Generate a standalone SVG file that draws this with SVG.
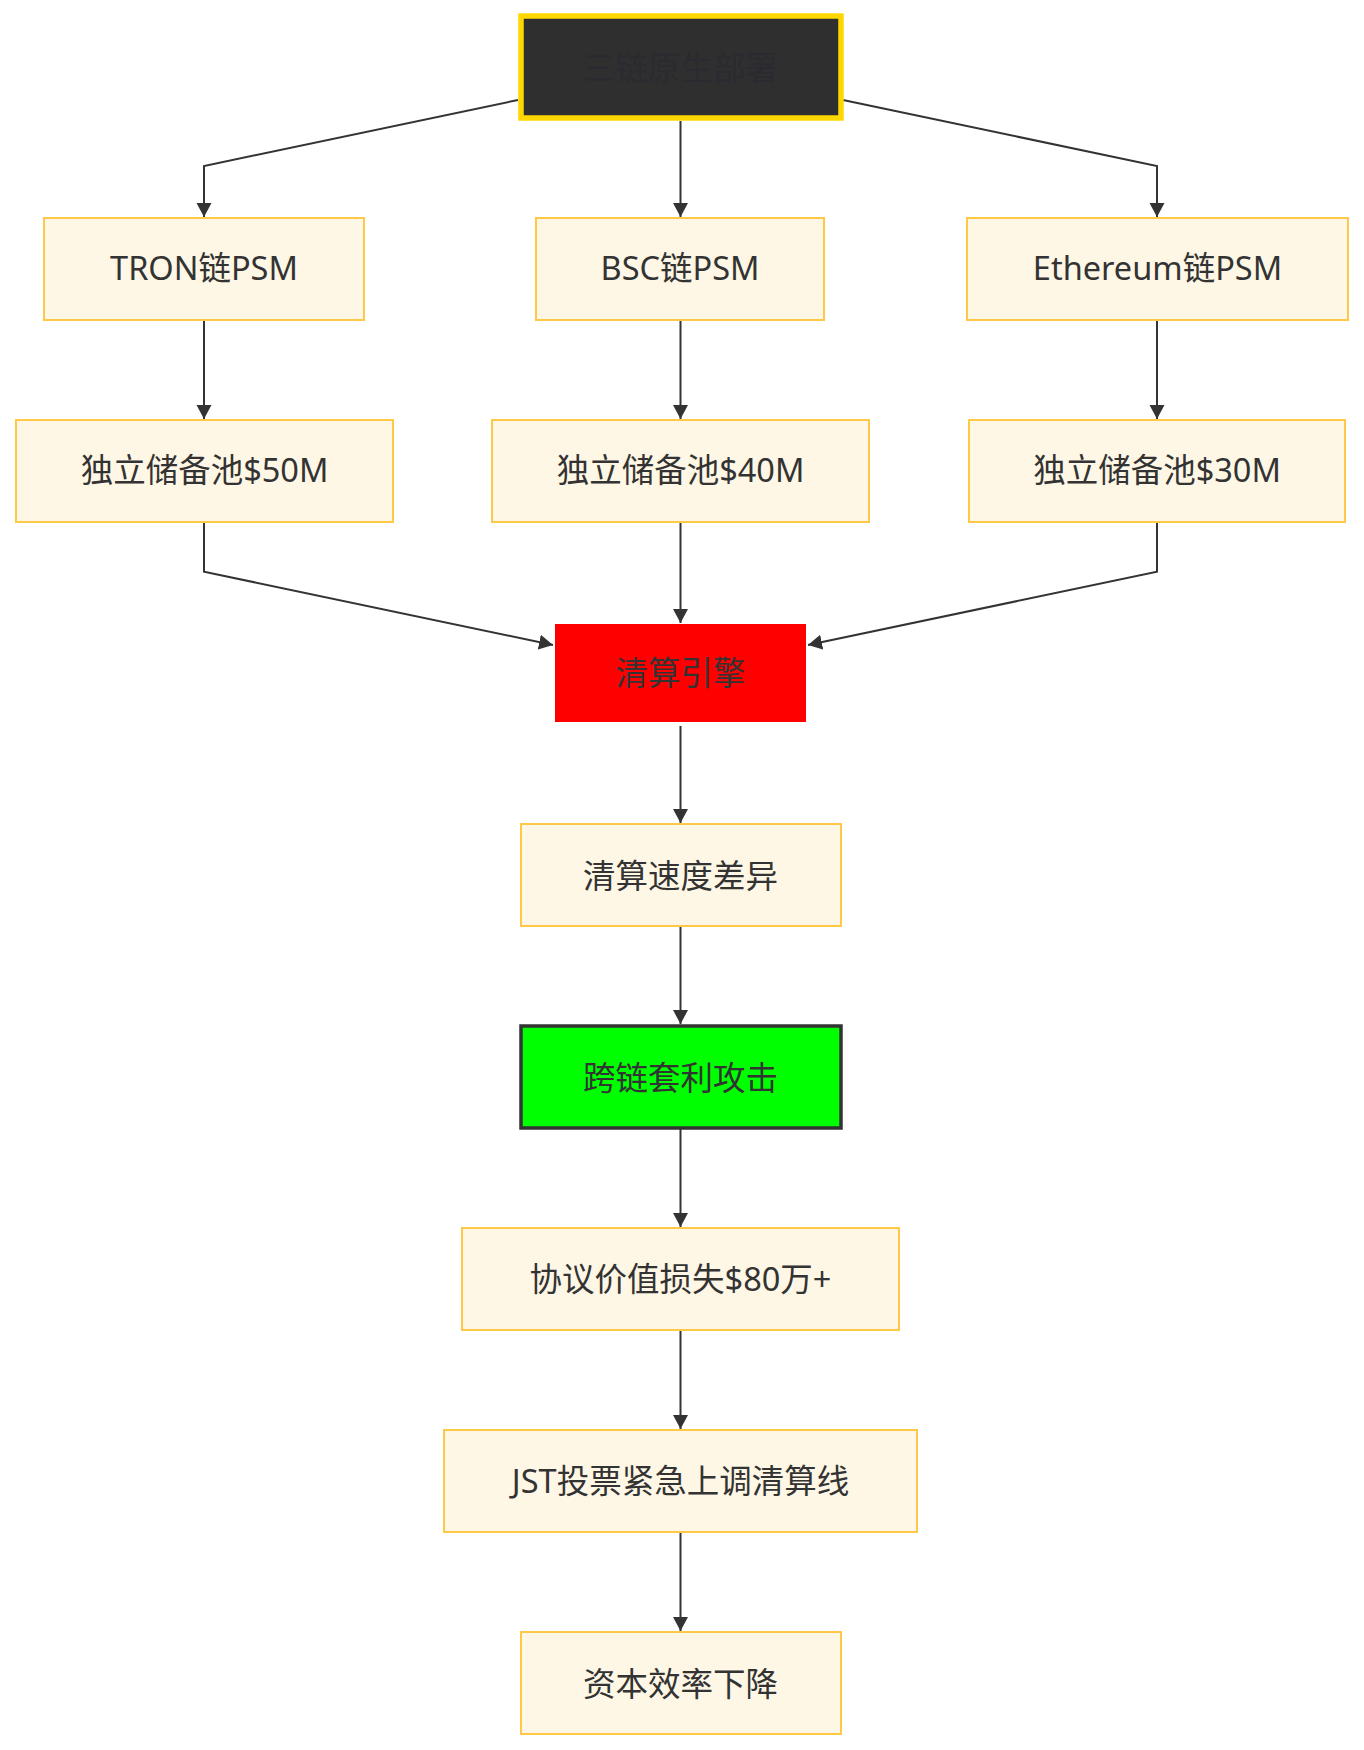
<svg xmlns="http://www.w3.org/2000/svg" width="1364" height="1750" viewBox="0 0 1364 1750">
<style>
.n{fill:#FFF7E5;stroke:#FFC847;stroke-width:2}
.t{font-family:"Noto Sans","Noto Sans CJK SC",sans-serif;font-size:32.5px;fill:#333333;text-anchor:middle;dominant-baseline:central}
.e{fill:none;stroke:#333333;stroke-width:2}
</style>
<defs>
<marker id="arr" markerUnits="userSpaceOnUse" markerWidth="16" markerHeight="16" refX="14" refY="7.5" orient="auto">
<path d="M0,0 L14,7.5 L0,15 z" fill="#333333"/>
</marker>
</defs>
<rect width="1364" height="1750" fill="#ffffff"/>
<g id="connectors">
<path class="e" marker-end="url(#arr)" d="M518,100 L204,166 L204,217"/>
<path class="e" marker-end="url(#arr)" d="M680.5,121 L680.5,217"/>
<path class="e" marker-end="url(#arr)" d="M843,100 L1157,166 L1157,217"/>
<path class="e" marker-end="url(#arr)" d="M204,320 L204,419"/>
<path class="e" marker-end="url(#arr)" d="M680.5,320 L680.5,419"/>
<path class="e" marker-end="url(#arr)" d="M1157,320 L1157,419"/>
<path class="e" marker-end="url(#arr)" d="M204,522 L204,571.7 L553,645"/>
<path class="e" marker-end="url(#arr)" d="M680.5,522 L680.5,623"/>
<path class="e" marker-end="url(#arr)" d="M1157,522 L1157,571.7 L808,645"/>
<path class="e" marker-end="url(#arr)" d="M680.5,726 L680.5,823"/>
<path class="e" marker-end="url(#arr)" d="M680.5,926 L680.5,1024"/>
<path class="e" marker-end="url(#arr)" d="M680.5,1129 L680.5,1227"/>
<path class="e" marker-end="url(#arr)" d="M680.5,1330 L680.5,1429"/>
<path class="e" marker-end="url(#arr)" d="M680.5,1532 L680.5,1631"/>
</g>
<g id="top">
<rect x="521" y="16" width="320" height="102" fill="#2F2F2F" stroke="#FFD700" stroke-width="5.5"/>
<text class="t" x="680.5" y="67" style="fill:#2A2A30">三链原生部署</text>
</g>
<g id="tron">
<rect class="n" x="44" y="218" width="320" height="102"/>
<text class="t" x="204" y="267">TRON链PSM</text>
</g>
<g id="bsc">
<rect class="n" x="536" y="218" width="288" height="102"/>
<text class="t" x="680" y="267">BSC链PSM</text>
</g>
<g id="eth">
<rect class="n" x="967" y="218" width="381" height="102"/>
<text class="t" x="1157.5" y="267">Ethereum链PSM</text>
</g>
<g id="pool1">
<rect class="n" x="16" y="420" width="377" height="102"/>
<text class="t" x="204.5" y="469">独立储备池$50M</text>
</g>
<g id="pool2">
<rect class="n" x="492" y="420" width="377" height="102"/>
<text class="t" x="680.5" y="469">独立储备池$40M</text>
</g>
<g id="pool3">
<rect class="n" x="969" y="420" width="376" height="102"/>
<text class="t" x="1157" y="469">独立储备池$30M</text>
</g>
<g id="engine">
<rect x="555" y="624" width="251" height="98" fill="#FF0000"/>
<text class="t" x="680.5" y="672">清算引擎</text>
</g>
<g id="speed">
<rect class="n" x="521" y="824" width="320" height="102"/>
<text class="t" x="680.5" y="875">清算速度差异</text>
</g>
<g id="attack">
<rect x="521" y="1026" width="320" height="102" fill="#00FF00" stroke="#333333" stroke-width="3.5"/>
<text class="t" x="680.5" y="1077">跨链套利攻击</text>
</g>
<g id="loss">
<rect class="n" x="462" y="1228" width="437" height="102"/>
<text class="t" x="680.5" y="1278">协议价值损失$80万+</text>
</g>
<g id="jst">
<rect class="n" x="444" y="1430" width="473" height="102"/>
<text class="t" x="680.5" y="1480">JST投票紧急上调清算线</text>
</g>
<g id="final">
<rect class="n" x="521" y="1632" width="320" height="102"/>
<text class="t" x="680.5" y="1683">资本效率下降</text>
</g>
</svg>
